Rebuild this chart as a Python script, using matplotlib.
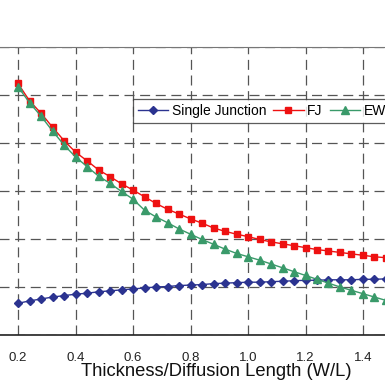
import matplotlib
matplotlib.use("Agg")
import matplotlib.pyplot as plt
import numpy as np

# W/L sample points (every 0.04)
thickness = [0.20, 0.24, 0.28, 0.32, 0.36, 0.40, 0.44, 0.48, 0.52, 0.56,
             0.60, 0.64, 0.68, 0.72, 0.76, 0.80, 0.84, 0.88, 0.92, 0.96,
             1.00, 1.04, 1.08, 1.12, 1.16, 1.20, 1.24, 1.28, 1.32, 1.36,
             1.40, 1.44, 1.48, 1.52, 1.56, 1.60]

single_junction = [0.66, 0.71, 0.75, 0.79, 0.82, 0.85, 0.87, 0.90, 0.92, 0.94,
                   0.96, 0.98, 1.00, 1.01, 1.03, 1.04, 1.05, 1.07, 1.08, 1.09,
                   1.10, 1.10, 1.11, 1.12, 1.13, 1.14, 1.14, 1.15, 1.15, 1.15,
                   1.16, 1.16, 1.17, 1.17, 1.18, 1.18]

fj = [5.24, 4.88, 4.62, 4.33, 4.05, 3.81, 3.63, 3.44, 3.30, 3.15,
      3.02, 2.88, 2.74, 2.62, 2.52, 2.42, 2.33, 2.23, 2.16, 2.10,
      2.05, 1.99, 1.94, 1.90, 1.86, 1.82, 1.78, 1.75, 1.72, 1.69,
      1.66, 1.63, 1.61, 1.59, 1.57, 1.55]

ew = [5.17, 4.84, 4.56, 4.25, 3.96, 3.71, 3.51, 3.31, 3.16, 2.99,
      2.83, 2.60, 2.46, 2.34, 2.21, 2.10, 1.99, 1.89, 1.79, 1.70,
      1.63, 1.56, 1.48, 1.40, 1.32, 1.24, 1.16, 1.08, 1.00, 0.93,
      0.86, 0.79, 0.72, 0.66, 0.60, 0.54]

SERIES = [
    ("Single Junction", single_junction, "#2B3390", "D", 4.3),
    ("FJ", fj, "#EE1111", "s", 5.0),
    ("EWT", ew, "#3A9A6A", "^", 5.6),
]

plt.rcParams.update({
    "font.family": ["Liberation Sans", "DejaVu Sans"],
    "font.size": 9,
})

fig = plt.figure(figsize=(3.85, 3.85), dpi=100)
# the original chart is cropped: axes extend past the left/right edges
ax = fig.add_axes([-0.0279, 0.1299, 1.1201, 0.748])

for label, vals, color, marker, ms in SERIES:
    ax.plot(thickness, vals, color=color, marker=marker, markersize=ms,
            markeredgecolor=color, linewidth=1.0, label=label)

ax.set_xlim(0.1, 1.6)
ax.set_ylim(0, 6)
ax.set_xticks([0.2, 0.4, 0.6, 0.8, 1.0, 1.2, 1.4])
ax.set_xticklabels(["0.2", "0.4", "0.6", "0.8", "1.0", "1.2", "1.4"])
ax.set_yticks(np.arange(0, 7, 1))
ax.tick_params(axis="both", direction="in", length=0, labelsize=9.5,
               pad=12, colors="#222222")
ax.tick_params(axis="y", labelleft=False)
ax.grid(True, color="#555555", linestyle=(0, (8, 4.5)), linewidth=0.9)
ax.set_axisbelow(True)
for side in ("top", "left", "right"):
    ax.spines[side].set_color("#777777")
ax.spines["bottom"].set_color("#222222")
ax.spines["bottom"].set_linewidth(1.2)

ax.set_xlabel("Thickness/Diffusion Length (W/L)", fontsize=13.2,
              color="#111111")
ax.xaxis.set_label_coords(0.526, -0.099)

leg = ax.legend(loc="upper left", bbox_to_anchor=(0.333, 0.819), ncol=3,
                frameon=True, fancybox=False, edgecolor="#333333",
                fontsize=10, handlelength=2.2, columnspacing=0.5,
                handletextpad=0.25, borderpad=0.35, borderaxespad=0)
leg.get_frame().set_linewidth(0.9)

fig.savefig("out.png", dpi=100)
